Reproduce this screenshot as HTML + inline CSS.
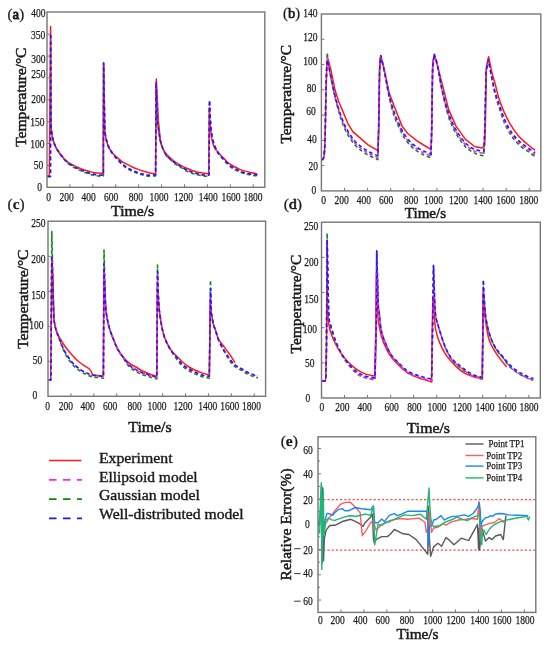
<!DOCTYPE html>
<html><head><meta charset="utf-8"><title>Temperature curves</title>
<style>html,body{margin:0;padding:0;background:#fff;}svg{display:block;}</style>
</head><body>
<svg width="550" height="647" viewBox="0 0 550 647" font-family="'Liberation Serif', 'Times New Roman', serif" fill="#1a1a1a">
<style>text{stroke:#1a1a1a;stroke-width:0.25px;}.t{stroke-width:0.5px;}.l{stroke-width:0.4px;}</style>
<rect width="550" height="647" fill="#fff"/>
<path d="M69.92,187.3 v-3M92.83,187.3 v-3M115.75,187.3 v-3M138.66,187.3 v-3M161.58,187.3 v-3M184.5,187.3 v-3M207.41,187.3 v-3M230.33,187.3 v-3M253.24,187.3 v-3" stroke="#767676" stroke-width="1" fill="none"/>
<path d="M47,165.43 h3M47,143.55 h3M47,121.68 h3M47,99.8 h3M47,77.93 h3M47,56.05 h3M47,34.18 h3" stroke="#767676" stroke-width="1" fill="none"/>
<text x="48.5" y="201.1" font-size="12.5" text-anchor="middle" textLength="4.75" lengthAdjust="spacingAndGlyphs">0</text>
<text x="66.5" y="201.1" font-size="12.5" text-anchor="middle" textLength="14.25" lengthAdjust="spacingAndGlyphs">200</text>
<text x="88.7" y="201.1" font-size="12.5" text-anchor="middle" textLength="14.25" lengthAdjust="spacingAndGlyphs">400</text>
<text x="111.1" y="201.1" font-size="12.5" text-anchor="middle" textLength="14.25" lengthAdjust="spacingAndGlyphs">600</text>
<text x="135.8" y="201.1" font-size="12.5" text-anchor="middle" textLength="14.25" lengthAdjust="spacingAndGlyphs">800</text>
<text x="159" y="201.1" font-size="12.5" text-anchor="middle" textLength="19" lengthAdjust="spacingAndGlyphs">1000</text>
<text x="183.5" y="201.1" font-size="12.5" text-anchor="middle" textLength="19" lengthAdjust="spacingAndGlyphs">1200</text>
<text x="208.3" y="201.1" font-size="12.5" text-anchor="middle" textLength="19" lengthAdjust="spacingAndGlyphs">1400</text>
<text x="231" y="201.1" font-size="12.5" text-anchor="middle" textLength="19" lengthAdjust="spacingAndGlyphs">1600</text>
<text x="253" y="201.1" font-size="12.5" text-anchor="middle" textLength="19" lengthAdjust="spacingAndGlyphs">1800</text>
<text x="45.5" y="16.8" font-size="12.5" text-anchor="end" textLength="14.25" lengthAdjust="spacingAndGlyphs">400</text>
<text x="45.3" y="38.7" font-size="12.5" text-anchor="end" textLength="14.25" lengthAdjust="spacingAndGlyphs">350</text>
<text x="45.6" y="62.7" font-size="12.5" text-anchor="end" textLength="14.25" lengthAdjust="spacingAndGlyphs">300</text>
<text x="45.5" y="78.2" font-size="12.5" text-anchor="end" textLength="14.25" lengthAdjust="spacingAndGlyphs">250</text>
<text x="45.5" y="102.6" font-size="12.5" text-anchor="end" textLength="14.25" lengthAdjust="spacingAndGlyphs">200</text>
<text x="44.5" y="125.9" font-size="12.5" text-anchor="end" textLength="14.25" lengthAdjust="spacingAndGlyphs">150</text>
<text x="44.5" y="147.6" font-size="12.5" text-anchor="end" textLength="14.25" lengthAdjust="spacingAndGlyphs">100</text>
<text x="43.3" y="169" font-size="12.5" text-anchor="end" textLength="9.5" lengthAdjust="spacingAndGlyphs">50</text>
<text x="42" y="191.1" font-size="12.5" text-anchor="end" textLength="4.75" lengthAdjust="spacingAndGlyphs">0</text>
<text x="7.6" y="18.9" font-size="15.2" textLength="16.6" lengthAdjust="spacingAndGlyphs">(<tspan style="stroke-width:0.8px">a</tspan>)</text>
<text x="111.1" y="216.4" font-size="15.2" textLength="43.1" lengthAdjust="spacingAndGlyphs" class="t">Time/s</text>
<text class="t" transform="translate(26,146.8) rotate(-90)" font-size="15" textLength="99.3" lengthAdjust="spacingAndGlyphs">Temperature/°C</text>
<path d="M47.5,176.5 L50.4,176.5 L50.7,36 L51,126.4 C51.17,127.85 51.57,132.57 52,135.1 C52.43,137.63 52.97,139.6 53.6,141.6 C54.23,143.6 54.88,145.2 55.8,147.1 C56.72,149 57.83,151.1 59.1,153 C60.37,154.9 61.95,156.78 63.4,158.5 C64.85,160.22 66.15,161.85 67.8,163.3 C69.45,164.75 71.48,166.1 73.3,167.2 C75.12,168.3 76.88,169.08 78.7,169.9 C80.52,170.72 82.38,171.38 84.2,172.1 C86.02,172.82 87.78,173.62 89.6,174.2 C91.42,174.78 93.28,175.27 95.1,175.6 C96.92,175.93 99.23,176.12 100.5,176.2 C101.77,176.28 102.33,176.12 102.7,176.1 L103.4,176 L103.6,65 L104.7,125 C104.73,126.13 104.6,129.22 104.9,131.8 C105.2,134.38 105.87,137.95 106.5,140.5 C107.13,143.05 107.78,145.02 108.7,147.1 C109.62,149.18 110.72,151.1 112,153 C113.28,154.9 114.77,156.6 116.4,158.5 C118.03,160.4 119.98,162.68 121.8,164.4 C123.62,166.12 125.48,167.62 127.3,168.8 C129.12,169.98 130.88,170.68 132.7,171.5 C134.52,172.32 136.38,173.07 138.2,173.7 C140.02,174.33 141.78,174.88 143.6,175.3 C145.42,175.72 147.28,176.1 149.1,176.2 C150.92,176.3 153.42,175.93 154.5,175.9 C155.58,175.87 155.42,175.98 155.6,176 L156.1,84 L157.3,120.9 C157.57,122.72 158.37,128.35 158.9,131.8 C159.43,135.25 159.87,138.87 160.5,141.6 C161.13,144.33 161.78,145.93 162.7,148.2 C163.62,150.47 164.72,153.3 166,155.2 C167.28,157.1 168.77,158.07 170.4,159.6 C172.03,161.13 173.98,163.05 175.8,164.4 C177.62,165.75 179.48,166.6 181.3,167.7 C183.12,168.8 184.88,170.08 186.7,171 C188.52,171.92 190.38,172.57 192.2,173.2 C194.02,173.83 195.78,174.35 197.6,174.8 C199.42,175.25 201.37,175.67 203.1,175.9 C204.83,176.13 207.18,176.15 208,176.2 L209,176 L209.5,103 L210.4,120.9 C210.67,123.45 211.28,132.02 212,136.2 C212.72,140.38 213.7,143.2 214.7,146 C215.7,148.8 216.72,150.92 218,153 C219.28,155.08 220.77,156.6 222.4,158.5 C224.03,160.4 225.98,162.68 227.8,164.4 C229.62,166.12 231.48,167.62 233.3,168.8 C235.12,169.98 236.88,170.68 238.7,171.5 C240.52,172.32 242.02,173.07 244.2,173.7 C246.38,174.33 249.62,174.93 251.8,175.3 C253.98,175.67 256.38,175.8 257.3,175.9" fill="none" stroke="#0a8a0a" stroke-width="1.55" stroke-linejoin="round" stroke-dasharray="3.6 2.8" stroke-dashoffset="0"/>
<path d="M47.5,176.3 L49.3,175.4 L50.6,26.6 L50.9,126.4 C51.08,127.85 51.55,132.57 52,135.1 C52.45,137.63 52.97,139.6 53.6,141.6 C54.23,143.6 54.88,145.28 55.8,147.1 C56.72,148.92 57.83,150.68 59.1,152.5 C60.37,154.32 61.95,156.4 63.4,158 C64.85,159.6 66.15,160.92 67.8,162.1 C69.45,163.28 71.48,164.15 73.3,165.1 C75.12,166.05 76.88,166.98 78.7,167.8 C80.52,168.62 82.38,169.37 84.2,170 C86.02,170.63 87.78,171.15 89.6,171.6 C91.42,172.05 92.92,172.43 95.1,172.7 C97.28,172.97 101.43,173.12 102.7,173.2 L103.2,173.2 L103.6,63 L104.6,125 C104.65,126.13 104.58,129.22 104.9,131.8 C105.22,134.38 105.87,137.95 106.5,140.5 C107.13,143.05 107.78,145.1 108.7,147.1 C109.62,149.1 110.72,150.87 112,152.5 C113.28,154.13 114.77,155.43 116.4,156.9 C118.03,158.37 119.98,160.03 121.8,161.3 C123.62,162.57 125.48,163.5 127.3,164.5 C129.12,165.5 130.88,166.48 132.7,167.3 C134.52,168.12 136.38,168.77 138.2,169.4 C140.02,170.03 141.78,170.55 143.6,171.1 C145.42,171.65 147.28,172.25 149.1,172.7 C150.92,173.15 153.42,173.6 154.5,173.8 C155.58,174 155.42,173.88 155.6,173.9 L156.3,78.9 L158.4,120.9 C158.58,122.72 159.15,128.53 159.5,131.8 C159.85,135.07 159.97,137.77 160.5,140.5 C161.03,143.23 161.78,146.02 162.7,148.2 C163.62,150.38 164.72,151.97 166,153.6 C167.28,155.23 168.77,156.55 170.4,158 C172.03,159.45 173.98,161.03 175.8,162.3 C177.62,163.57 179.48,164.6 181.3,165.6 C183.12,166.6 184.88,167.48 186.7,168.3 C188.52,169.12 190.38,169.85 192.2,170.5 C194.02,171.15 195.78,171.78 197.6,172.2 C199.42,172.62 201.37,172.73 203.1,173 C204.83,173.27 207.18,173.67 208,173.8 L208.7,173.5 L209.3,108 L209.8,120.9 C210.08,123.63 210.77,132.93 211.5,137.3 C212.23,141.67 213.3,144.83 214.2,147.1 C215.1,149.37 215.9,149.63 216.9,150.9 C217.9,152.17 218.93,153.33 220.2,154.7 C221.47,156.07 223.05,157.65 224.5,159.1 C225.95,160.55 227.25,162.13 228.9,163.4 C230.55,164.67 232.58,165.7 234.4,166.7 C236.22,167.7 237.98,168.67 239.8,169.4 C241.62,170.13 243.3,170.55 245.3,171.1 C247.3,171.65 249.8,172.25 251.8,172.7 C253.8,173.15 256.38,173.62 257.3,173.8" fill="none" stroke="#ff1a1a" stroke-width="1.5" stroke-linejoin="round"/>
<path d="M47.5,176.5 L50.4,176.5 L50.7,33.6 L51,126.4 C51.17,127.85 51.57,132.57 52,135.1 C52.43,137.63 52.97,139.6 53.6,141.6 C54.23,143.6 54.88,145.28 55.8,147.1 C56.72,148.92 57.83,150.68 59.1,152.5 C60.37,154.32 61.95,156.37 63.4,158 C64.85,159.63 66.15,160.93 67.8,162.3 C69.45,163.67 71.48,165.1 73.3,166.2 C75.12,167.3 76.88,168.08 78.7,168.9 C80.52,169.72 82.38,170.38 84.2,171.1 C86.02,171.82 87.78,172.62 89.6,173.2 C91.42,173.78 93.28,174.27 95.1,174.6 C96.92,174.93 99.23,175.12 100.5,175.2 C101.77,175.28 102.33,175.12 102.7,175.1 L103.4,175 L103.6,63 L104.7,125 C104.73,126.13 104.6,129.22 104.9,131.8 C105.2,134.38 105.87,137.95 106.5,140.5 C107.13,143.05 107.78,145.1 108.7,147.1 C109.62,149.1 110.72,150.68 112,152.5 C113.28,154.32 114.77,156.18 116.4,158 C118.03,159.82 119.98,161.77 121.8,163.4 C123.62,165.03 125.48,166.62 127.3,167.8 C129.12,168.98 130.88,169.68 132.7,170.5 C134.52,171.32 136.38,172.07 138.2,172.7 C140.02,173.33 141.78,173.88 143.6,174.3 C145.42,174.72 147.28,175.1 149.1,175.2 C150.92,175.3 153.42,174.93 154.5,174.9 C155.58,174.87 155.42,174.98 155.6,175 L156.1,82 L157.3,120.9 C157.57,122.72 158.37,128.35 158.9,131.8 C159.43,135.25 159.87,138.87 160.5,141.6 C161.13,144.33 161.78,146.02 162.7,148.2 C163.62,150.38 164.72,152.88 166,154.7 C167.28,156.52 168.77,157.65 170.4,159.1 C172.03,160.55 173.98,162.13 175.8,163.4 C177.62,164.67 179.48,165.6 181.3,166.7 C183.12,167.8 184.88,169.08 186.7,170 C188.52,170.92 190.38,171.57 192.2,172.2 C194.02,172.83 195.78,173.35 197.6,173.8 C199.42,174.25 201.37,174.67 203.1,174.9 C204.83,175.13 207.18,175.15 208,175.2 L209,175 L209.5,100.4 L210.4,120.9 C210.67,123.45 211.28,132.02 212,136.2 C212.72,140.38 213.7,143.28 214.7,146 C215.7,148.72 216.72,150.5 218,152.5 C219.28,154.5 220.77,156.18 222.4,158 C224.03,159.82 225.98,161.77 227.8,163.4 C229.62,165.03 231.48,166.62 233.3,167.8 C235.12,168.98 236.88,169.68 238.7,170.5 C240.52,171.32 242.02,172.07 244.2,172.7 C246.38,173.33 249.62,173.93 251.8,174.3 C253.98,174.67 256.38,174.8 257.3,174.9" fill="none" stroke="#ff22ff" stroke-width="1.55" stroke-linejoin="round" stroke-dasharray="3.6 2.8" stroke-dashoffset="0"/>
<path d="M47.5,176.5 L50.4,176.5 L50.7,33.6 L51,126.4 C51.17,127.85 51.57,132.57 52,135.1 C52.43,137.63 52.97,139.6 53.6,141.6 C54.23,143.6 54.88,145.28 55.8,147.1 C56.72,148.92 57.83,150.68 59.1,152.5 C60.37,154.32 61.95,156.37 63.4,158 C64.85,159.63 66.15,160.93 67.8,162.3 C69.45,163.67 71.48,165.1 73.3,166.2 C75.12,167.3 76.88,168.08 78.7,168.9 C80.52,169.72 82.38,170.38 84.2,171.1 C86.02,171.82 87.78,172.62 89.6,173.2 C91.42,173.78 93.28,174.27 95.1,174.6 C96.92,174.93 99.23,175.12 100.5,175.2 C101.77,175.28 102.33,175.12 102.7,175.1 L103.4,175 L103.6,63 L104.7,125 C104.73,126.13 104.6,129.22 104.9,131.8 C105.2,134.38 105.87,137.95 106.5,140.5 C107.13,143.05 107.78,145.1 108.7,147.1 C109.62,149.1 110.72,150.68 112,152.5 C113.28,154.32 114.77,156.18 116.4,158 C118.03,159.82 119.98,161.77 121.8,163.4 C123.62,165.03 125.48,166.62 127.3,167.8 C129.12,168.98 130.88,169.68 132.7,170.5 C134.52,171.32 136.38,172.07 138.2,172.7 C140.02,173.33 141.78,173.88 143.6,174.3 C145.42,174.72 147.28,175.1 149.1,175.2 C150.92,175.3 153.42,174.93 154.5,174.9 C155.58,174.87 155.42,174.98 155.6,175 L156.1,82 L157.3,120.9 C157.57,122.72 158.37,128.35 158.9,131.8 C159.43,135.25 159.87,138.87 160.5,141.6 C161.13,144.33 161.78,146.02 162.7,148.2 C163.62,150.38 164.72,152.88 166,154.7 C167.28,156.52 168.77,157.65 170.4,159.1 C172.03,160.55 173.98,162.13 175.8,163.4 C177.62,164.67 179.48,165.6 181.3,166.7 C183.12,167.8 184.88,169.08 186.7,170 C188.52,170.92 190.38,171.57 192.2,172.2 C194.02,172.83 195.78,173.35 197.6,173.8 C199.42,174.25 201.37,174.67 203.1,174.9 C204.83,175.13 207.18,175.15 208,175.2 L209,175 L209.5,100.4 L210.4,120.9 C210.67,123.45 211.28,132.02 212,136.2 C212.72,140.38 213.7,143.28 214.7,146 C215.7,148.72 216.72,150.5 218,152.5 C219.28,154.5 220.77,156.18 222.4,158 C224.03,159.82 225.98,161.77 227.8,163.4 C229.62,165.03 231.48,166.62 233.3,167.8 C235.12,168.98 236.88,169.68 238.7,170.5 C240.52,171.32 242.02,172.07 244.2,172.7 C246.38,173.33 249.62,173.93 251.8,174.3 C253.98,174.67 256.38,174.8 257.3,174.9" fill="none" stroke="#1a1aff" stroke-width="1.55" stroke-linejoin="round" stroke-dasharray="3.6 2.8" stroke-dashoffset="0"/>
<rect x="47" y="12" width="217.8" height="175.3" fill="none" stroke="#767676" stroke-width="1.4"/>
<path d="M344.49,190.9 v-3M367.59,190.9 v-3M390.68,190.9 v-3M413.78,190.9 v-3M436.87,190.9 v-3M459.96,190.9 v-3M483.06,190.9 v-3M506.15,190.9 v-3M529.25,190.9 v-3" stroke="#767676" stroke-width="1" fill="none"/>
<path d="M321.4,165.63 h3M321.4,140.36 h3M321.4,115.08 h3M321.4,89.81 h3M321.4,64.54 h3M321.4,39.27 h3" stroke="#767676" stroke-width="1" fill="none"/>
<text x="323.5" y="203.6" font-size="12.5" text-anchor="middle" textLength="4.75" lengthAdjust="spacingAndGlyphs">0</text>
<text x="341.7" y="203.6" font-size="12.5" text-anchor="middle" textLength="14.25" lengthAdjust="spacingAndGlyphs">200</text>
<text x="363.9" y="203.6" font-size="12.5" text-anchor="middle" textLength="14.25" lengthAdjust="spacingAndGlyphs">400</text>
<text x="386.1" y="203.6" font-size="12.5" text-anchor="middle" textLength="14.25" lengthAdjust="spacingAndGlyphs">600</text>
<text x="411.2" y="203.6" font-size="12.5" text-anchor="middle" textLength="14.25" lengthAdjust="spacingAndGlyphs">800</text>
<text x="433.6" y="203.6" font-size="12.5" text-anchor="middle" textLength="19" lengthAdjust="spacingAndGlyphs">1000</text>
<text x="458.6" y="203.6" font-size="12.5" text-anchor="middle" textLength="19" lengthAdjust="spacingAndGlyphs">1200</text>
<text x="482.9" y="203.6" font-size="12.5" text-anchor="middle" textLength="19" lengthAdjust="spacingAndGlyphs">1400</text>
<text x="505.8" y="203.6" font-size="12.5" text-anchor="middle" textLength="19" lengthAdjust="spacingAndGlyphs">1600</text>
<text x="528.8" y="203.6" font-size="12.5" text-anchor="middle" textLength="19" lengthAdjust="spacingAndGlyphs">1800</text>
<text x="317.4" y="17.3" font-size="12.5" text-anchor="end" textLength="14.25" lengthAdjust="spacingAndGlyphs">140</text>
<text x="317.6" y="41.1" font-size="12.5" text-anchor="end" textLength="14.25" lengthAdjust="spacingAndGlyphs">120</text>
<text x="317.6" y="65.3" font-size="12.5" text-anchor="end" textLength="14.25" lengthAdjust="spacingAndGlyphs">100</text>
<text x="316.2" y="91.7" font-size="12.5" text-anchor="end" textLength="9.5" lengthAdjust="spacingAndGlyphs">80</text>
<text x="315.8" y="115" font-size="12.5" text-anchor="end" textLength="9.5" lengthAdjust="spacingAndGlyphs">60</text>
<text x="316.7" y="142.6" font-size="12.5" text-anchor="end" textLength="9.5" lengthAdjust="spacingAndGlyphs">40</text>
<text x="318" y="169.6" font-size="12.5" text-anchor="end" textLength="9.5" lengthAdjust="spacingAndGlyphs">20</text>
<text x="316.2" y="193.6" font-size="12.5" text-anchor="end" textLength="4.75" lengthAdjust="spacingAndGlyphs">0</text>
<text x="283.1" y="17.5" font-size="15" textLength="16.9" lengthAdjust="spacingAndGlyphs">(<tspan style="stroke-width:0.7px">b</tspan>)</text>
<text x="404.8" y="217.7" font-size="14.6" textLength="41.3" lengthAdjust="spacingAndGlyphs" class="t">Time/s</text>
<text class="t" transform="translate(290.6,143.6) rotate(-90)" font-size="15" textLength="98.6" lengthAdjust="spacingAndGlyphs">Temperature/°C</text>
<path d="M322,159.8 C322.3,159.33 323.3,160.3 323.8,157 C324.3,153.7 324.67,149.5 325,140 C325.33,130.5 325.53,111.67 325.8,100 C326.07,88.33 326.37,77.87 326.6,70 C326.83,62.13 327.1,55.67 327.2,52.8 C327.6,55.73 328.42,63.5 329.6,70.4 C330.78,77.3 332.75,87.28 334.3,94.22 C335.85,101.16 337.35,106.73 338.9,112.06 C340.45,117.39 342.05,122.31 343.6,126.2 C345.15,130.09 346.35,132.32 348.2,135.4 C350.05,138.48 352.38,142.07 354.7,144.7 C357.02,147.33 359.63,149.35 362.1,151.2 C364.57,153.05 366.87,154.4 369.5,155.8 C372.13,157.2 376.5,158.97 377.9,159.6 L378.6,130 L379.5,70 L380.8,54.5 C381.57,58.27 384.02,70.09 385.4,77.14 C386.78,84.19 387.7,90.47 389.1,96.78 C390.5,103.09 392.25,110.1 393.8,115 C395.35,119.9 396.7,122.48 398.4,126.2 C400.1,129.92 401.83,133.9 404,137.3 C406.17,140.7 408.93,144.13 411.4,146.6 C413.87,149.07 416.62,150.65 418.8,152.1 C420.98,153.55 422.48,154.37 424.5,155.3 C426.52,156.23 429.83,157.3 430.9,157.7 L431.7,130 L432.6,70 L434.1,54 C434.65,55.99 436.07,59.73 437.4,65.94 C438.73,72.15 440.23,82.79 442.1,91.28 C443.97,99.77 446.28,109.85 448.6,116.9 C450.92,123.95 453.22,128.65 456,133.6 C458.78,138.55 462.22,143.35 465.3,146.6 C468.38,149.85 471.42,151.53 474.5,153.1 C477.58,154.67 482.25,155.55 483.8,156.04 L484.8,130 L486,72 L488.3,58 L488.4,58 C488.97,61.39 490.67,72.23 491.8,78.34 C492.93,84.45 493.78,89.15 495.2,94.68 C496.62,100.21 498.6,106.43 500.3,111.5 C502,116.57 503.42,120.85 505.4,125.1 C507.38,129.35 509.65,133.47 512.2,137 C514.75,140.53 517.88,143.75 520.7,146.3 C523.52,148.85 526.7,150.6 529.1,152.3 C531.5,154 534.1,155.8 535.1,156.5" fill="none" stroke="#0a8a0a" stroke-width="1.55" stroke-linejoin="round" stroke-dasharray="3.6 2.8" stroke-dashoffset="0"/>
<path d="M322,160.4 C322.25,160 323.07,159.57 323.5,158 C323.93,156.43 324.28,156.5 324.6,151 C324.92,145.5 325.17,134.83 325.4,125 C325.63,115.17 325.73,102.17 326,92 C326.27,81.83 326.7,69.62 327,64 C327.3,58.38 327.67,59.25 327.8,58.3 L330.6,68.6 L335.2,90.8 L338.9,102 L343.6,113.1 L348.2,124.2 L352.8,131.6 L360.3,138.1 L367.7,144.6 L377,150.2 L378,150.2 L379,120 L379.9,59.3 L380.8,56.5 L383.6,66.7 L389.1,92.7 L394.7,107.5 L402.1,126.1 L407.7,133.5 L417,140.9 L424.4,145.5 L430.9,149.3 L431.5,140 L431.8,116.8 L432.7,61.1 L434.6,57.4 L435.2,57.4 L438.3,68.6 L443,87.1 L448.6,109.4 L456,126.1 L465.3,139.1 L474.5,146.5 L482,148 L484.7,145.5 L485.5,120 L486.4,67 L488.7,56.7 L488.7,56.8 C489.22,59.35 490.72,67.57 491.8,72.1 C492.88,76.63 494.07,79.77 495.2,84 C496.33,88.23 497.18,92.98 498.6,97.5 C500.02,102.02 501.72,106.57 503.7,111.1 C505.68,115.63 507.95,120.45 510.5,124.7 C513.05,128.95 516.18,133.35 519,136.6 C521.82,139.85 524.72,141.93 527.4,144.2 C530.08,146.47 533.82,149.2 535.1,150.2" fill="none" stroke="#ff1a1a" stroke-width="1.5" stroke-linejoin="round"/>
<path d="M322,159.8 C322.3,159.33 323.3,160.3 323.8,157 C324.3,153.7 324.67,149.5 325,140 C325.33,130.5 325.53,111.67 325.8,100 C326.07,88.33 326.37,77 326.6,70 C326.83,63 327.1,60 327.2,58 C327.6,60.07 328.42,64.5 329.6,70.4 C330.78,76.3 332.75,86.71 334.3,93.42 C335.85,100.13 337.35,105.53 338.9,110.66 C340.45,115.79 342.05,120.41 343.6,124.2 C345.15,127.99 346.35,130.32 348.2,133.4 C350.05,136.48 352.38,140.07 354.7,142.7 C357.02,145.33 359.63,147.35 362.1,149.2 C364.57,151.05 366.87,152.4 369.5,153.8 C372.13,155.2 376.5,156.97 377.9,157.6 L378.6,130 L379.5,70 L380.8,56 C381.57,59.42 384.02,69.94 385.4,76.54 C386.78,83.14 387.7,89.5 389.1,95.58 C390.5,101.66 392.25,108.23 393.8,113 C395.35,117.77 396.7,120.48 398.4,124.2 C400.1,127.92 401.83,131.9 404,135.3 C406.17,138.7 408.93,142.13 411.4,144.6 C413.87,147.07 416.62,148.65 418.8,150.1 C420.98,151.55 422.48,152.37 424.5,153.3 C426.52,154.23 429.83,155.3 430.9,155.7 L431.7,130 L432.6,70 L434.1,55 C434.65,56.72 436.07,59.49 437.4,65.34 C438.73,71.19 440.23,81.82 442.1,90.08 C443.97,98.34 446.28,107.98 448.6,114.9 C450.92,121.82 453.22,126.65 456,131.6 C458.78,136.55 462.22,141.35 465.3,144.6 C468.38,147.85 471.42,149.63 474.5,151.1 C477.58,152.57 482.25,153.05 483.8,153.44 L484.8,130 L486,72 L488.3,60 L488.4,60 C488.97,62.96 490.67,72.16 491.8,77.74 C492.93,83.32 493.78,88.19 495.2,93.48 C496.62,98.77 498.6,104.56 500.3,109.5 C502,114.44 503.42,118.85 505.4,123.1 C507.38,127.35 509.65,131.47 512.2,135 C514.75,138.53 517.88,141.75 520.7,144.3 C523.52,146.85 526.7,148.6 529.1,150.3 C531.5,152 534.1,153.8 535.1,154.5" fill="none" stroke="#ff22ff" stroke-width="1.55" stroke-linejoin="round" stroke-dasharray="3.6 2.8" stroke-dashoffset="0"/>
<path d="M322,159.8 C322.3,159.33 323.3,160.3 323.8,157 C324.3,153.7 324.67,149.5 325,140 C325.33,130.5 325.53,111.67 325.8,100 C326.07,88.33 326.37,76.63 326.6,70 C326.83,63.37 327.1,61.83 327.2,60.2 C327.6,61.9 328.42,64.98 329.6,70.4 C330.78,75.82 332.75,86.2 334.3,92.7 C335.85,99.2 337.35,104.45 338.9,109.4 C340.45,114.35 342.05,118.7 343.6,122.4 C345.15,126.1 346.35,128.52 348.2,131.6 C350.05,134.68 352.38,138.27 354.7,140.9 C357.02,143.53 359.63,145.55 362.1,147.4 C364.57,149.25 366.87,150.6 369.5,152 C372.13,153.4 376.5,155.17 377.9,155.8 L378.6,130 L379.5,70 L380.8,55.6 C381.57,59 384.02,69.52 385.4,76 C386.78,82.48 387.7,88.63 389.1,94.5 C390.5,100.37 392.25,106.55 393.8,111.2 C395.35,115.85 396.7,118.68 398.4,122.4 C400.1,126.12 401.83,130.1 404,133.5 C406.17,136.9 408.93,140.33 411.4,142.8 C413.87,145.27 416.62,146.85 418.8,148.3 C420.98,149.75 422.48,150.57 424.5,151.5 C426.52,152.43 429.83,153.5 430.9,153.9 L431.7,130 L432.6,70 L434.1,53.7 C434.65,55.55 436.07,58.92 437.4,64.8 C438.73,70.68 440.23,80.95 442.1,89 C443.97,97.05 446.28,106.3 448.6,113.1 C450.92,119.9 453.22,124.85 456,129.8 C458.78,134.75 462.22,139.55 465.3,142.8 C468.38,146.05 471.42,147.92 474.5,149.3 C477.58,150.68 482.25,150.8 483.8,151.1 L484.8,130 L486,72 L488.3,60 L488.4,60 C488.97,62.87 490.67,71.8 491.8,77.2 C492.93,82.6 493.78,87.32 495.2,92.4 C496.62,97.48 498.6,102.88 500.3,107.7 C502,112.52 503.42,117.05 505.4,121.3 C507.38,125.55 509.65,129.67 512.2,133.2 C514.75,136.73 517.88,139.95 520.7,142.5 C523.52,145.05 526.7,146.8 529.1,148.5 C531.5,150.2 534.1,152 535.1,152.7" fill="none" stroke="#1a1aff" stroke-width="1.55" stroke-linejoin="round" stroke-dasharray="3.6 2.8" stroke-dashoffset="0"/>
<rect x="321.4" y="14" width="219.4" height="176.9" fill="none" stroke="#767676" stroke-width="1.4"/>
<path d="M70.92,396.3 v-3M93.83,396.3 v-3M116.75,396.3 v-3M139.66,396.3 v-3M162.58,396.3 v-3M185.5,396.3 v-3M208.41,396.3 v-3M231.33,396.3 v-3M254.24,396.3 v-3" stroke="#767676" stroke-width="1" fill="none"/>
<path d="M48,361.3 h3M48,326.3 h3M48,291.3 h3M48,256.3 h3" stroke="#767676" stroke-width="1" fill="none"/>
<text x="47.6" y="409.7" font-size="12.5" text-anchor="middle" textLength="4.75" lengthAdjust="spacingAndGlyphs">0</text>
<text x="65.8" y="409.7" font-size="12.5" text-anchor="middle" textLength="14.25" lengthAdjust="spacingAndGlyphs">200</text>
<text x="87.7" y="409.7" font-size="12.5" text-anchor="middle" textLength="14.25" lengthAdjust="spacingAndGlyphs">400</text>
<text x="110" y="409.7" font-size="12.5" text-anchor="middle" textLength="14.25" lengthAdjust="spacingAndGlyphs">600</text>
<text x="134.7" y="409.7" font-size="12.5" text-anchor="middle" textLength="14.25" lengthAdjust="spacingAndGlyphs">800</text>
<text x="157" y="409.7" font-size="12.5" text-anchor="middle" textLength="19" lengthAdjust="spacingAndGlyphs">1000</text>
<text x="183" y="409.7" font-size="12.5" text-anchor="middle" textLength="19" lengthAdjust="spacingAndGlyphs">1200</text>
<text x="207.8" y="409.7" font-size="12.5" text-anchor="middle" textLength="19" lengthAdjust="spacingAndGlyphs">1400</text>
<text x="229.7" y="409.7" font-size="12.5" text-anchor="middle" textLength="19" lengthAdjust="spacingAndGlyphs">1600</text>
<text x="251.5" y="409.7" font-size="12.5" text-anchor="middle" textLength="19" lengthAdjust="spacingAndGlyphs">1800</text>
<text x="45.4" y="227.2" font-size="12.5" text-anchor="end" textLength="14.25" lengthAdjust="spacingAndGlyphs">250</text>
<text x="45.4" y="262.5" font-size="12.5" text-anchor="end" textLength="14.25" lengthAdjust="spacingAndGlyphs">200</text>
<text x="45.6" y="298.5" font-size="12.5" text-anchor="end" textLength="14.25" lengthAdjust="spacingAndGlyphs">150</text>
<text x="43.4" y="329.2" font-size="12.5" text-anchor="end" textLength="14.25" lengthAdjust="spacingAndGlyphs">100</text>
<text x="42.2" y="363.8" font-size="12.5" text-anchor="end" textLength="9.5" lengthAdjust="spacingAndGlyphs">50</text>
<text x="37.2" y="399" font-size="12.5" text-anchor="end" textLength="4.75" lengthAdjust="spacingAndGlyphs">0</text>
<text x="7.6" y="209.2" font-size="15.5" textLength="17.1" lengthAdjust="spacingAndGlyphs">(<tspan font-weight="bold">c</tspan>)</text>
<text x="128.3" y="431.9" font-size="15.2" textLength="43.3" lengthAdjust="spacingAndGlyphs" class="t">Time/s</text>
<text class="t" transform="translate(28,348.8) rotate(-90)" font-size="15" textLength="99.3" lengthAdjust="spacingAndGlyphs">Temperature/°C</text>
<path d="M48.5,379.7 L50.9,379.7 L51.8,231.6 L53.9,319.7 C54.25,321.42 55.13,326.93 56,330 C56.87,333.07 58.1,335.37 59.1,338.1 C60.1,340.83 60.9,343.62 62,346.4 C63.1,349.18 63.98,351.8 65.7,354.8 C67.42,357.8 70.12,361.85 72.3,364.4 C74.48,366.95 76.62,368.48 78.8,370.1 C80.98,371.72 83.2,373 85.4,374.1 C87.6,375.2 89.15,376.05 92,376.7 C94.85,377.35 100.6,377.75 102.5,378 C104.4,378.25 103.25,378.17 103.4,378.2 L104,250 L105.6,306.6 C105.82,308.35 106.23,313.38 106.9,317.1 C107.57,320.82 108.5,325.18 109.6,328.9 C110.7,332.62 112.18,335.97 113.5,339.4 C114.82,342.83 115.97,346.5 117.5,349.5 C119.03,352.5 120.73,354.52 122.7,357.4 C124.67,360.28 127.1,364.47 129.3,366.8 C131.5,369.13 133.72,370.08 135.9,371.4 C138.08,372.72 140.22,373.82 142.4,374.7 C144.58,375.58 146.8,376.03 149,376.7 C151.2,377.37 154.3,378.35 155.6,378.7 C156.9,379.05 156.6,378.78 156.8,378.8 L157.5,265.1 L158.5,300 L159.3,310.5 C159.63,312.7 160.53,319.53 161.3,323.7 C162.07,327.87 162.82,331.85 163.9,335.5 C164.98,339.15 166.48,342.83 167.8,345.6 C169.12,348.37 170.27,349.77 171.8,352.1 C173.33,354.43 175.25,357.25 177,359.6 C178.75,361.95 180.32,364.33 182.3,366.2 C184.28,368.07 186.72,369.48 188.9,370.8 C191.08,372.12 193.22,373.12 195.4,374.1 C197.58,375.08 199.8,376.05 202,376.7 C204.2,377.35 207.38,377.77 208.6,378 C209.82,378.23 209.18,378.08 209.3,378.1 L210.5,280.1 L211.3,313.1 C211.63,314.87 212.53,320.63 213.3,323.7 C214.07,326.77 215.03,328.73 215.9,331.5 C216.77,334.27 217.18,337.08 218.5,340.3 C219.82,343.52 222.05,347.58 223.8,350.8 C225.55,354.02 227.25,357.03 229,359.6 C230.75,362.17 232.32,364.45 234.3,366.2 C236.28,367.95 238.72,368.78 240.9,370.1 C243.08,371.42 245.22,373 247.4,374.1 C249.58,375.2 252.25,376.08 254,376.7 C255.75,377.32 257.25,377.62 257.9,377.8" fill="none" stroke="#0a8a0a" stroke-width="1.55" stroke-linejoin="round" stroke-dasharray="3.6 2.8" stroke-dashoffset="0"/>
<path d="M48.5,379.7 L50.7,379.7 L51.8,259 L52.6,269.7 L53.9,319.7 C54.28,321.42 55.33,327.15 56.2,330 C57.07,332.85 57.52,333.92 59.1,336.8 C60.68,339.68 63.5,344.23 65.7,347.3 C67.9,350.37 70.12,352.78 72.3,355.2 C74.48,357.62 76.62,359.93 78.8,361.8 C80.98,363.67 83.63,365.2 85.4,366.4 C87.17,367.6 88.42,368.13 89.4,369 C90.38,369.87 90.98,371.17 91.3,371.6 L92.6,374.9 L103.4,376 L103.8,272.5 L105.6,306.6 C105.82,308.35 106.23,313.38 106.9,317.1 C107.57,320.82 108.5,325.18 109.6,328.9 C110.7,332.62 112.18,336.12 113.5,339.4 C114.82,342.68 115.97,345.75 117.5,348.6 C119.03,351.45 120.73,354.08 122.7,356.5 C124.67,358.92 127.1,361.35 129.3,363.1 C131.5,364.85 133.72,365.68 135.9,367 C138.08,368.32 140.22,369.9 142.4,371 C144.58,372.1 146.8,372.77 149,373.6 C151.2,374.43 154.3,375.57 155.6,376 C156.9,376.43 156.6,376.17 156.8,376.2 L157.3,285.7 L158.5,300 L159.3,310.5 C159.63,312.7 160.53,319.53 161.3,323.7 C162.07,327.87 162.82,332 163.9,335.5 C164.98,339 166.48,342.08 167.8,344.7 C169.12,347.32 170.27,349.23 171.8,351.2 C173.33,353.17 175.25,354.73 177,356.5 C178.75,358.27 180.32,360.05 182.3,361.8 C184.28,363.55 186.72,365.58 188.9,367 C191.08,368.42 193.22,369.32 195.4,370.3 C197.58,371.28 199.8,372.13 202,372.9 C204.2,373.67 207.37,374.55 208.6,374.9 C209.83,375.25 209.27,374.98 209.4,375 L210.3,300.2 L211.3,313.1 C211.63,314.87 212.53,320.63 213.3,323.7 C214.07,326.77 215.03,328.88 215.9,331.5 C216.77,334.12 217.4,337.2 218.5,339.4 C219.6,341.6 221.18,342.95 222.5,344.7 C223.82,346.45 225.1,348.15 226.4,349.9 C227.7,351.65 228.88,353.05 230.3,355.2 C231.72,357.35 234.13,361.53 234.9,362.8" fill="none" stroke="#ff1a1a" stroke-width="1.5" stroke-linejoin="round"/>
<path d="M48.5,379.7 L50.9,379.7 L51.8,258 L53.9,319.7 C54.25,321.42 55.13,326.93 56,330 C56.87,333.07 58.1,335.49 59.1,338.1 C60.1,340.71 60.9,343.12 62,345.65 C63.1,348.18 63.98,350.43 65.7,353.3 C67.42,356.18 70.12,360.35 72.3,362.9 C74.48,365.45 76.62,366.98 78.8,368.6 C80.98,370.22 83.2,371.5 85.4,372.6 C87.6,373.7 89.15,374.55 92,375.2 C94.85,375.85 100.6,376.25 102.5,376.5 C104.4,376.75 103.25,376.67 103.4,376.7 L104,266 L105.6,306.6 C105.82,308.35 106.23,313.38 106.9,317.1 C107.57,320.82 108.5,325.18 109.6,328.9 C110.7,332.62 112.18,336.09 113.5,339.4 C114.82,342.71 115.97,345.88 117.5,348.75 C119.03,351.62 120.73,353.89 122.7,356.65 C124.67,359.41 127.1,363.09 129.3,365.3 C131.5,367.51 133.72,368.58 135.9,369.9 C138.08,371.22 140.22,372.32 142.4,373.2 C144.58,374.08 146.8,374.53 149,375.2 C151.2,375.87 154.3,376.85 155.6,377.2 C156.9,377.55 156.6,377.28 156.8,377.3 L157.5,274 L158.5,300 L159.3,310.5 C159.63,312.7 160.53,319.53 161.3,323.7 C162.07,327.87 162.82,331.98 163.9,335.5 C164.98,339.02 166.48,342.21 167.8,344.85 C169.12,347.49 170.27,349.14 171.8,351.35 C173.33,353.56 175.25,355.88 177,358.1 C178.75,360.33 180.32,362.83 182.3,364.7 C184.28,366.57 186.72,367.98 188.9,369.3 C191.08,370.62 193.22,371.62 195.4,372.6 C197.58,373.58 199.8,374.55 202,375.2 C204.2,375.85 207.38,376.27 208.6,376.5 C209.82,376.73 209.18,376.58 209.3,376.6 L210.5,292 L211.3,313.1 C211.63,314.87 212.53,320.63 213.3,323.7 C214.07,326.77 215.03,328.86 215.9,331.5 C216.77,334.14 217.18,336.46 218.5,339.55 C219.82,342.64 222.05,346.96 223.8,350.05 C225.55,353.14 227.25,355.66 229,358.1 C230.75,360.54 232.32,362.95 234.3,364.7 C236.28,366.45 238.72,367.28 240.9,368.6 C243.08,369.92 245.22,371.5 247.4,372.6 C249.58,373.7 252.25,374.58 254,375.2 C255.75,375.82 257.25,376.12 257.9,376.3" fill="none" stroke="#ff22ff" stroke-width="1.55" stroke-linejoin="round" stroke-dasharray="3.6 2.8" stroke-dashoffset="0"/>
<path d="M48.5,379.7 L50.9,379.7 L51.8,255.3 L53.9,319.7 C54.25,321.42 55.13,326.93 56,330 C56.87,333.07 58.1,335.52 59.1,338.1 C60.1,340.68 60.9,343.02 62,345.5 C63.1,347.98 63.98,350.15 65.7,353 C67.42,355.85 70.12,360.05 72.3,362.6 C74.48,365.15 76.62,366.68 78.8,368.3 C80.98,369.92 83.2,371.2 85.4,372.3 C87.6,373.4 89.15,374.25 92,374.9 C94.85,375.55 100.6,375.95 102.5,376.2 C104.4,376.45 103.25,376.37 103.4,376.4 L104,264 L105.6,306.6 C105.82,308.35 106.23,313.38 106.9,317.1 C107.57,320.82 108.5,325.18 109.6,328.9 C110.7,332.62 112.18,336.12 113.5,339.4 C114.82,342.68 115.97,345.75 117.5,348.6 C119.03,351.45 120.73,353.77 122.7,356.5 C124.67,359.23 127.1,362.82 129.3,365 C131.5,367.18 133.72,368.28 135.9,369.6 C138.08,370.92 140.22,372.02 142.4,372.9 C144.58,373.78 146.8,374.23 149,374.9 C151.2,375.57 154.3,376.55 155.6,376.9 C156.9,377.25 156.6,376.98 156.8,377 L157.5,271.6 L158.5,300 L159.3,310.5 C159.63,312.7 160.53,319.53 161.3,323.7 C162.07,327.87 162.82,332 163.9,335.5 C164.98,339 166.48,342.08 167.8,344.7 C169.12,347.32 170.27,349.02 171.8,351.2 C173.33,353.38 175.25,355.6 177,357.8 C178.75,360 180.32,362.53 182.3,364.4 C184.28,366.27 186.72,367.68 188.9,369 C191.08,370.32 193.22,371.32 195.4,372.3 C197.58,373.28 199.8,374.25 202,374.9 C204.2,375.55 207.38,375.97 208.6,376.2 C209.82,376.43 209.18,376.28 209.3,376.3 L210.5,288.2 L211.3,313.1 C211.63,314.87 212.53,320.63 213.3,323.7 C214.07,326.77 215.03,328.88 215.9,331.5 C216.77,334.12 217.18,336.33 218.5,339.4 C219.82,342.47 222.05,346.83 223.8,349.9 C225.55,352.97 227.25,355.38 229,357.8 C230.75,360.22 232.32,362.65 234.3,364.4 C236.28,366.15 238.72,366.98 240.9,368.3 C243.08,369.62 245.22,371.2 247.4,372.3 C249.58,373.4 252.25,374.28 254,374.9 C255.75,375.52 257.25,375.82 257.9,376" fill="none" stroke="#1a1aff" stroke-width="1.55" stroke-linejoin="round" stroke-dasharray="3.6 2.8" stroke-dashoffset="0"/>
<rect x="48" y="221.2" width="217.6" height="175.1" fill="none" stroke="#767676" stroke-width="1.4"/>
<path d="M344.53,398 v-3M367.56,398 v-3M390.6,398 v-3M413.63,398 v-3M436.66,398 v-3M459.69,398 v-3M482.72,398 v-3M505.76,398 v-3M528.79,398 v-3" stroke="#767676" stroke-width="1" fill="none"/>
<path d="M321.5,362.84 h3M321.5,327.68 h3M321.5,292.52 h3M321.5,257.36 h3" stroke="#767676" stroke-width="1" fill="none"/>
<text x="321.8" y="411.1" font-size="12.5" text-anchor="middle" textLength="4.75" lengthAdjust="spacingAndGlyphs">0</text>
<text x="342.3" y="411.1" font-size="12.5" text-anchor="middle" textLength="14.25" lengthAdjust="spacingAndGlyphs">200</text>
<text x="364.5" y="411.1" font-size="12.5" text-anchor="middle" textLength="14.25" lengthAdjust="spacingAndGlyphs">400</text>
<text x="391.7" y="411.1" font-size="12.5" text-anchor="middle" textLength="14.25" lengthAdjust="spacingAndGlyphs">600</text>
<text x="414.3" y="411.1" font-size="12.5" text-anchor="middle" textLength="14.25" lengthAdjust="spacingAndGlyphs">800</text>
<text x="437" y="411.1" font-size="12.5" text-anchor="middle" textLength="19" lengthAdjust="spacingAndGlyphs">1000</text>
<text x="462.2" y="411.1" font-size="12.5" text-anchor="middle" textLength="19" lengthAdjust="spacingAndGlyphs">1200</text>
<text x="484.9" y="411.1" font-size="12.5" text-anchor="middle" textLength="19" lengthAdjust="spacingAndGlyphs">1400</text>
<text x="506.9" y="411.1" font-size="12.5" text-anchor="middle" textLength="19" lengthAdjust="spacingAndGlyphs">1600</text>
<text x="529" y="411.1" font-size="12.5" text-anchor="middle" textLength="19" lengthAdjust="spacingAndGlyphs">1800</text>
<text x="318.3" y="230.1" font-size="12.5" text-anchor="end" textLength="14.25" lengthAdjust="spacingAndGlyphs">250</text>
<text x="318.5" y="265.9" font-size="12.5" text-anchor="end" textLength="14.25" lengthAdjust="spacingAndGlyphs">200</text>
<text x="318.5" y="302.5" font-size="12.5" text-anchor="end" textLength="14.25" lengthAdjust="spacingAndGlyphs">150</text>
<text x="317" y="333.2" font-size="12.5" text-anchor="end" textLength="14.25" lengthAdjust="spacingAndGlyphs">100</text>
<text x="314.5" y="367.4" font-size="12.5" text-anchor="end" textLength="9.5" lengthAdjust="spacingAndGlyphs">50</text>
<text x="310.3" y="401.9" font-size="12.5" text-anchor="end" textLength="4.75" lengthAdjust="spacingAndGlyphs">0</text>
<text x="283.7" y="209.2" font-size="15.5" textLength="18.3" lengthAdjust="spacingAndGlyphs">(<tspan style="stroke-width:0.7px">d</tspan>)</text>
<text x="406.7" y="433.1" font-size="15.2" textLength="43.3" lengthAdjust="spacingAndGlyphs" class="t">Time/s</text>
<text class="t" transform="translate(301.4,353.5) rotate(-90)" font-size="15" textLength="98.9" lengthAdjust="spacingAndGlyphs">Temperature/°C</text>
<path d="M322,381 L325,381 C325.15,380.17 325.65,382.83 325.9,376 C326.15,369.17 326.3,363.85 326.5,340 C326.7,316.15 327,250.75 327.1,232.9 L328.6,312 L329.2,320.4 C330.12,323.47 332.7,333.23 334.7,338.8 C336.7,344.37 339.05,349.68 341.2,353.8 C343.35,357.92 345.08,360.28 347.6,363.5 C350.12,366.72 353.58,370.78 356.3,373.1 C359.02,375.42 361.02,376.32 363.9,377.4 C366.78,378.48 371.75,379.18 373.6,379.6 C375.45,380.02 374.77,379.85 375,379.9 L376.2,330 L376.7,251.5 L378.4,308 L379.5,315 C379.83,317.73 380.27,326.13 381.5,331.4 C382.73,336.67 385.08,342.28 386.9,346.6 C388.72,350.92 390.58,354.6 392.4,357.3 C394.22,360 395.98,360.83 397.8,362.8 C399.62,364.77 401.48,367.32 403.3,369.1 C405.12,370.88 405.98,372.03 408.7,373.5 C411.42,374.97 415.97,376.72 419.6,377.9 C423.23,379.08 428.5,380.13 430.5,380.6 C432.5,381.07 431.42,380.68 431.6,380.7 L432.6,330 L433.5,268 L434.8,305 L435.7,317.4 C436.32,319.45 437.95,325.02 439.4,329.7 C440.85,334.38 442.55,340.82 444.4,345.5 C446.25,350.18 448.45,354.57 450.5,357.8 C452.55,361.03 454.63,362.9 456.7,364.9 C458.77,366.9 460.83,368.25 462.9,369.8 C464.97,371.35 467.03,372.95 469.1,374.2 C471.17,375.45 473.25,376.48 475.3,377.3 C477.35,378.12 480.22,378.78 481.4,379.1 C482.58,379.42 482.23,379.18 482.4,379.2 L482.9,330 L483.3,291.3 L484.6,305 L485.7,317.4 C486.12,319.45 487.17,325.8 488.2,329.7 C489.23,333.6 490.47,337.35 491.9,340.8 C493.33,344.25 494.95,347.57 496.8,350.4 C498.65,353.23 500.93,355.18 503,357.8 C505.07,360.42 506.93,363.68 509.2,366.1 C511.47,368.52 514.13,370.55 516.6,372.3 C519.07,374.05 521.53,375.37 524,376.6 C526.47,377.83 529.82,379.13 531.4,379.7 C532.98,380.27 533.15,379.95 533.5,380" fill="none" stroke="#0a8a0a" stroke-width="1.55" stroke-linejoin="round" stroke-dasharray="3.6 2.8" stroke-dashoffset="0"/>
<path d="M322,381 L324.9,381 C325.03,380.52 325.45,383.48 325.7,378.1 C325.95,372.72 326.23,358.48 326.4,348.7 C326.57,338.92 326.58,336.73 326.7,319.4 C326.82,302.07 327.03,257.15 327.1,244.7 L327.5,304.7 L328.2,320.4 C328.55,322.2 329.22,327.58 330.3,331.2 C331.38,334.82 333.07,338.67 334.7,342.1 C336.33,345.53 337.95,348.57 340.1,351.8 C342.25,355.03 344.9,358.62 347.6,361.5 C350.3,364.38 353.58,367.12 356.3,369.1 C359.02,371.08 361.37,372.32 363.9,373.4 C366.43,374.48 369.72,375.27 371.5,375.6 C373.28,375.93 374.08,375.43 374.6,375.4 L375.8,330 L376.5,272 L377.6,312 L378.2,320.5 C378.75,323.22 380.05,331.9 381.5,336.8 C382.95,341.7 385.08,346.27 386.9,349.9 C388.72,353.53 390.58,356.23 392.4,358.6 C394.22,360.97 395.98,362.28 397.8,364.1 C399.62,365.92 401.48,367.97 403.3,369.5 C405.12,371.03 406.88,372.2 408.7,373.3 C410.52,374.4 412.38,375.28 414.2,376.1 C416.02,376.92 417.78,377.57 419.6,378.2 C421.42,378.83 423.1,379.25 425.1,379.9 C427.1,380.55 430.52,381.73 431.6,382.1 L432.2,330 L432.9,296.2 L433.7,306 L434.5,317.4 C434.7,319.45 434.88,325.58 435.7,329.7 C436.52,333.82 437.75,337.98 439.4,342.1 C441.05,346.22 443.53,351.1 445.6,354.4 C447.67,357.7 449.53,359.42 451.8,361.9 C454.07,364.38 456.73,367.25 459.2,369.3 C461.67,371.35 464.13,372.97 466.6,374.2 C469.07,375.43 471.53,376.18 474,376.7 C476.47,377.22 480.07,377.18 481.4,377.3 C482.73,377.42 481.9,377.38 482,377.4 L482.8,330 L483.3,291.3 L484.2,305.5 L485.1,317.4 C485.4,319.45 486.18,325.8 486.9,329.7 C487.62,333.6 488.15,337.3 489.4,340.8 C490.65,344.3 492.55,347.6 494.4,350.7 C496.25,353.8 498.45,356.72 500.5,359.4 C502.55,362.08 505.67,365.57 506.7,366.8" fill="none" stroke="#ff1a1a" stroke-width="1.5" stroke-linejoin="round"/>
<path d="M322,381 L325,381 C325.15,380.17 325.65,382.83 325.9,376 C326.15,369.17 326.3,362.75 326.5,340 C326.7,317.25 327,256.25 327.1,239.5 L328.6,312 L329.2,320.4 C330.12,323.47 332.7,333.26 334.7,338.8 C336.7,344.34 339.05,349.56 341.2,353.65 C343.35,357.74 345.08,360.16 347.6,363.35 C350.12,366.54 353.58,370.51 356.3,372.8 C359.02,375.09 361.02,376.02 363.9,377.1 C366.78,378.18 371.75,378.88 373.6,379.3 C375.45,379.72 374.77,379.55 375,379.6 L376.2,330 L376.7,250.8 L378.4,308 L379.5,315 C379.83,317.73 380.27,326.13 381.5,331.4 C382.73,336.67 385.08,342.31 386.9,346.6 C388.72,350.89 390.58,354.47 392.4,357.15 C394.22,359.82 395.98,360.71 397.8,362.65 C399.62,364.59 401.48,367.04 403.3,368.8 C405.12,370.56 405.98,371.73 408.7,373.2 C411.42,374.67 415.97,376.42 419.6,377.6 C423.23,378.78 428.5,379.83 430.5,380.3 C432.5,380.77 431.42,380.38 431.6,380.4 L432.6,330 L433.5,266 L434.8,305 L435.7,317.4 C436.32,319.45 437.95,325.04 439.4,329.7 C440.85,334.36 442.55,340.69 444.4,345.35 C446.25,350.01 448.45,354.44 450.5,357.65 C452.55,360.86 454.63,362.62 456.7,364.6 C458.77,366.58 460.83,367.95 462.9,369.5 C464.97,371.05 467.03,372.65 469.1,373.9 C471.17,375.15 473.25,376.18 475.3,377 C477.35,377.82 480.22,378.48 481.4,378.8 C482.58,379.12 482.23,378.88 482.4,378.9 L482.9,330 L483.3,282 L484.6,305 L485.7,317.4 C486.12,319.45 487.17,325.8 488.2,329.7 C489.23,333.6 490.47,337.38 491.9,340.8 C493.33,344.23 494.95,347.44 496.8,350.25 C498.65,353.06 500.93,355.06 503,357.65 C505.07,360.24 506.93,363.41 509.2,365.8 C511.47,368.19 514.13,370.25 516.6,372 C519.07,373.75 521.53,375.07 524,376.3 C526.47,377.53 529.82,378.83 531.4,379.4 C532.98,379.97 533.15,379.65 533.5,379.7" fill="none" stroke="#ff22ff" stroke-width="1.55" stroke-linejoin="round" stroke-dasharray="3.6 2.8" stroke-dashoffset="0"/>
<path d="M322,381 L325,381 C325.15,380.17 325.65,382.83 325.9,376 C326.15,369.17 326.3,362.75 326.5,340 C326.7,317.25 327,256.25 327.1,239.5 L328.6,312 L329.2,320.4 C330.12,323.47 332.7,333.38 334.7,338.8 C336.7,344.22 339.05,348.93 341.2,352.9 C343.35,356.87 345.08,359.53 347.6,362.6 C350.12,365.67 353.58,369.13 356.3,371.3 C359.02,373.47 361.02,374.52 363.9,375.6 C366.78,376.68 371.75,377.38 373.6,377.8 C375.45,378.22 374.77,378.05 375,378.1 L376.2,330 L376.7,250.8 L378.4,308 L379.5,315 C379.83,317.73 380.27,326.13 381.5,331.4 C382.73,336.67 385.08,342.43 386.9,346.6 C388.72,350.77 390.58,353.85 392.4,356.4 C394.22,358.95 395.98,360.08 397.8,361.9 C399.62,363.72 401.48,365.67 403.3,367.3 C405.12,368.93 405.98,370.23 408.7,371.7 C411.42,373.17 415.97,374.92 419.6,376.1 C423.23,377.28 428.5,378.33 430.5,378.8 C432.5,379.27 431.42,378.88 431.6,378.9 L432.6,330 L433.5,264.6 L434.8,305 L435.7,317.4 C436.32,319.45 437.95,325.17 439.4,329.7 C440.85,334.23 442.55,340.07 444.4,344.6 C446.25,349.13 448.45,353.82 450.5,356.9 C452.55,359.98 454.63,361.25 456.7,363.1 C458.77,364.95 460.83,366.45 462.9,368 C464.97,369.55 467.03,371.15 469.1,372.4 C471.17,373.65 473.25,374.68 475.3,375.5 C477.35,376.32 480.22,376.98 481.4,377.3 C482.58,377.62 482.23,377.38 482.4,377.4 L482.9,330 L483.3,279.8 L484.6,305 L485.7,317.4 C486.12,319.45 487.17,325.8 488.2,329.7 C489.23,333.6 490.47,337.5 491.9,340.8 C493.33,344.1 494.95,346.82 496.8,349.5 C498.65,352.18 500.93,354.43 503,356.9 C505.07,359.37 506.93,362.03 509.2,364.3 C511.47,366.57 514.13,368.75 516.6,370.5 C519.07,372.25 521.53,373.57 524,374.8 C526.47,376.03 529.82,377.33 531.4,377.9 C532.98,378.47 533.15,378.15 533.5,378.2" fill="none" stroke="#1a1aff" stroke-width="1.55" stroke-linejoin="round" stroke-dasharray="3.6 2.8" stroke-dashoffset="0"/>
<rect x="321.5" y="222.2" width="218.8" height="175.8" fill="none" stroke="#767676" stroke-width="1.4"/>
<line x1="49" y1="460.5" x2="81.5" y2="460.5" stroke="#ff1a1a" stroke-width="1.7"/>
<line x1="49" y1="479.8" x2="82" y2="479.8" stroke="#ff22ff" stroke-width="1.7" stroke-dasharray="7.5 6.5"/>
<line x1="49" y1="499.1" x2="82" y2="499.1" stroke="#0a8a0a" stroke-width="1.7" stroke-dasharray="7.5 6.5"/>
<line x1="49" y1="518.3" x2="82" y2="518.3" stroke="#1a1aff" stroke-width="1.7" stroke-dasharray="7.5 6.5"/>
<text x="98.9" y="462.5" font-size="15.5" textLength="73.7" lengthAdjust="spacingAndGlyphs" class="l">Experiment</text>
<text x="98.9" y="481.5" font-size="15.5" textLength="98.8" lengthAdjust="spacingAndGlyphs" class="l">Ellipsoid model</text>
<text x="98.9" y="500.4" font-size="15.5" textLength="100.9" lengthAdjust="spacingAndGlyphs" class="l">Gaussian model</text>
<text x="99.1" y="519.4" font-size="15.5" textLength="144.6" lengthAdjust="spacingAndGlyphs" class="l">Well-distributed model</text>
<path d="M340.93,612.4 v-3M363.85,612.4 v-3M386.78,612.4 v-3M409.7,612.4 v-3M432.63,612.4 v-3M455.56,612.4 v-3M478.48,612.4 v-3M501.41,612.4 v-3M524.33,612.4 v-3" stroke="#767676" stroke-width="1" fill="none"/>
<path d="M318,600 h3M318,574.75 h3M318,549.5 h3M318,524.25 h3M318,499 h3M318,473.75 h3M318,448.5 h3" stroke="#767676" stroke-width="1" fill="none"/>
<path d="M318,587.38 h2M318,562.12 h2M318,536.88 h2M318,511.62 h2M318,486.38 h2M318,461.12 h2" stroke="#767676" stroke-width="1" fill="none"/>
<text x="320.4" y="624" font-size="12.5" text-anchor="middle" textLength="4.75" lengthAdjust="spacingAndGlyphs">0</text>
<text x="337.5" y="624" font-size="12.5" text-anchor="middle" textLength="14.25" lengthAdjust="spacingAndGlyphs">200</text>
<text x="360.3" y="624" font-size="12.5" text-anchor="middle" textLength="14.25" lengthAdjust="spacingAndGlyphs">400</text>
<text x="382.6" y="624" font-size="12.5" text-anchor="middle" textLength="14.25" lengthAdjust="spacingAndGlyphs">600</text>
<text x="406.8" y="624" font-size="12.5" text-anchor="middle" textLength="14.25" lengthAdjust="spacingAndGlyphs">800</text>
<text x="432.8" y="624" font-size="12.5" text-anchor="middle" textLength="19" lengthAdjust="spacingAndGlyphs">1000</text>
<text x="455.8" y="624" font-size="12.5" text-anchor="middle" textLength="19" lengthAdjust="spacingAndGlyphs">1200</text>
<text x="479.7" y="624" font-size="12.5" text-anchor="middle" textLength="19" lengthAdjust="spacingAndGlyphs">1400</text>
<text x="502" y="624" font-size="12.5" text-anchor="middle" textLength="19" lengthAdjust="spacingAndGlyphs">1600</text>
<text x="525" y="624" font-size="12.5" text-anchor="middle" textLength="19" lengthAdjust="spacingAndGlyphs">1800</text>
<text x="312.7" y="454.1" font-size="12.5" text-anchor="end" textLength="9.5" lengthAdjust="spacingAndGlyphs">60</text>
<text x="312.7" y="478.2" font-size="12.5" text-anchor="end" textLength="9.5" lengthAdjust="spacingAndGlyphs">40</text>
<text x="312.7" y="504" font-size="12.5" text-anchor="end" textLength="9.5" lengthAdjust="spacingAndGlyphs">20</text>
<text x="309.7" y="527.5" font-size="12.5" text-anchor="end" textLength="4.75" lengthAdjust="spacingAndGlyphs">0</text>
<text x="312.7" y="553.5" font-size="12.5" text-anchor="end" textLength="9.5" lengthAdjust="spacingAndGlyphs">20</text>
<line x1="294.2" y1="548.7" x2="300.6" y2="548.7" stroke="#1a1a1a" stroke-width="0.9"/>
<text x="312.7" y="577.4" font-size="12.5" text-anchor="end" textLength="9.5" lengthAdjust="spacingAndGlyphs">40</text>
<line x1="294.2" y1="573.6" x2="300.6" y2="573.6" stroke="#1a1a1a" stroke-width="0.9"/>
<text x="312.7" y="605.1" font-size="12.5" text-anchor="end" textLength="9.5" lengthAdjust="spacingAndGlyphs">60</text>
<line x1="294.2" y1="601.2" x2="300.6" y2="601.2" stroke="#1a1a1a" stroke-width="0.9"/>
<text x="280.7" y="446" font-size="15" textLength="17.2" lengthAdjust="spacingAndGlyphs">(<tspan font-weight="bold">e</tspan>)</text>
<text x="396.6" y="638.7" font-size="15.2" textLength="42" lengthAdjust="spacingAndGlyphs" class="t">Time/s</text>
<text class="t" transform="translate(290.9,580.5) rotate(-90)" font-size="15.5" textLength="112.2" lengthAdjust="spacingAndGlyphs">Relative Error(%)</text>
<line x1="319" y1="499.6" x2="535" y2="499.6" stroke="#ff4a4a" stroke-width="1.4" stroke-dasharray="2.2 2"/>
<line x1="319" y1="550.1" x2="535" y2="550.1" stroke="#ff4a4a" stroke-width="1.4" stroke-dasharray="2.2 2"/>
<path d="M318.7,526 L320,520 L321,505 L322.7,487.8 L323.5,560.9 L324.3,539.4 L326.1,530.1 L329.8,525.5 L335,525.3 L343.2,521.2 L350.8,519.3 L355.8,521.7 L359.5,523.6 L363.1,526.4 L365.1,522.7 L370.7,517.1 L372.5,514 L373.5,540 L374.4,543.1 L376.2,539.4 L381.8,536.6 L387.4,536.6 L390,534.5 L394.4,529.5 L398.7,531.6 L403.1,533.8 L408.9,534.5 L416.2,539.6 L422,546.9 L427.8,554.2 L428.4,506.2 L429.5,540 L430.7,556.4 L433.6,546.9 L438,543.3 L441.6,546.2 L446,537.5 L449.6,540.4 L454,544.7 L461.3,538.2 L465.6,539.6 L468.7,540.4 L473.1,532.4 L477.5,524.4 L478.6,549.8 L479.2,528 L479.6,549.8 L481.8,528 L485.5,541.1 L489.1,537.5 L492,539.6 L495.6,536 L500.7,534.5 L503.3,539.6 L505.8,516.4 L506.5,515.6" fill="none" stroke="#595959" stroke-width="1.4" stroke-linejoin="round"/>
<path d="M318.7,522 L320.5,522 L323.2,506.5 L323.5,526 L324.3,525.5 L329.8,517.1 L335,510.8 L340.5,504.3 L344.3,502.6 L349.7,502.1 L351.4,503.2 L355.7,507.5 L360.1,512.5 L361.7,529.9 L362.3,535.7 L365.1,532 L370.7,522.7 L373.4,519.9 L375.3,528.2 L376.2,530.1 L381.8,524.5 L389.2,520.8 L395.8,519.3 L400.2,518.5 L407.5,519.3 L419.1,518.1 L424.9,522.2 L426.4,532.4 L428.1,528 L429.3,512 L431.5,532.4 L433.6,528 L438,527.3 L443.1,523.6 L446,525.1 L451.1,522.2 L458.4,520 L465.8,519.3 L471.6,518.5 L477.5,519.3 L478.9,501.8 L480.4,541.1 L481.8,526.5 L484.7,525.1 L489.1,523.6 L494.9,522.2 L499.3,518.5 L503.6,522.2 L505.8,522.9" fill="none" stroke="#ff5c5c" stroke-width="1.4" stroke-linejoin="round"/>
<path d="M318.7,524 L320.2,515 L321.5,485.2 L322.1,563.4 L322.8,540 L324.3,522.7 L327,513.4 L329.8,513.8 L332.6,515.3 L335,512.5 L338.3,509.7 L342.1,508.6 L344.8,510.8 L348.6,510.8 L355.2,507.5 L361.4,508.8 L370.7,509.7 L373.4,506 L374.7,522.7 L378,522.7 L381.8,519 L384.6,521.7 L389.2,515.3 L394.4,513.7 L397.3,515.6 L401.6,514.2 L407.5,511.3 L426.4,511.3 L427.5,517.8 L428.5,546.9 L429.3,526.5 L432.2,525.1 L433.6,520 L436.5,519.3 L440.9,515.6 L444.5,520 L448.2,517.8 L452.5,516.4 L456.9,516.4 L464.2,514.9 L468.7,516.4 L473.1,513.5 L476,509.8 L478.2,506.2 L479.2,502.5 L480.1,509.1 L481.1,526.5 L481.8,522.2 L483.3,520 L485.5,517.8 L488.4,517.1 L490.5,515.6 L492.7,516.4 L494.9,514.2 L499.3,513.5 L503.6,513.7 L508,514.9 L518.2,515.3 L528.4,515.6" fill="none" stroke="#1f86ee" stroke-width="1.4" stroke-linejoin="round"/>
<path d="M318.7,530 L319.6,533 L320.5,500 L321.3,482.7 L321.8,569.4 L322.5,540 L323.2,490 L324,535 L326,520 L328.9,518 L331.7,519.9 L335,520.4 L343.2,517.4 L349.7,515.7 L356.8,516.3 L365,514.1 L370.7,515.3 L373.4,506 L374.7,545 L378,524.5 L381.8,525.5 L385.5,522.7 L390,521.5 L397.3,517.8 L404.5,514.9 L411.8,515.6 L420.5,514.2 L426.4,519.3 L428.1,498.9 L429,488 L429.6,501.8 L430.7,517.8 L432.2,525.1 L433.6,526.5 L439.5,525.8 L445.3,522.2 L451.1,520 L456.9,517.1 L462.7,519.3 L467.3,520.7 L471.6,517.8 L477.5,515.6 L479.6,515.6 L480.4,538.2 L481.8,544.7 L482.5,530.9 L484,530.2 L486.2,534.5 L489.1,529.5 L493.5,525.1 L499.3,522.2 L506.5,520 L518.2,517.8 L526.9,516.4 L528.4,520 L529.8,516.4" fill="none" stroke="#1fb774" stroke-width="1.4" stroke-linejoin="round"/>
<rect x="318" y="436.8" width="217.8" height="175.6" fill="none" stroke="#767676" stroke-width="1.4"/>
<line x1="465.5" y1="444" x2="483.5" y2="444" stroke="#595959" stroke-width="1.4"/>
<text x="488.5" y="447.3" font-size="10" textLength="36" lengthAdjust="spacingAndGlyphs">Point TP1</text>
<line x1="465.5" y1="455.5" x2="483.5" y2="455.5" stroke="#ff5c5c" stroke-width="1.4"/>
<text x="486.3" y="458.8" font-size="10" textLength="36" lengthAdjust="spacingAndGlyphs">Point TP2</text>
<line x1="465.5" y1="466.1" x2="483.5" y2="466.1" stroke="#1f86ee" stroke-width="1.4"/>
<text x="486.3" y="469.4" font-size="10" textLength="36" lengthAdjust="spacingAndGlyphs">Point TP3</text>
<line x1="465.5" y1="477.9" x2="483.5" y2="477.9" stroke="#1fb774" stroke-width="1.4"/>
<text x="486.3" y="481.2" font-size="10" textLength="36" lengthAdjust="spacingAndGlyphs">Point TP4</text>
</svg>
</body></html>
